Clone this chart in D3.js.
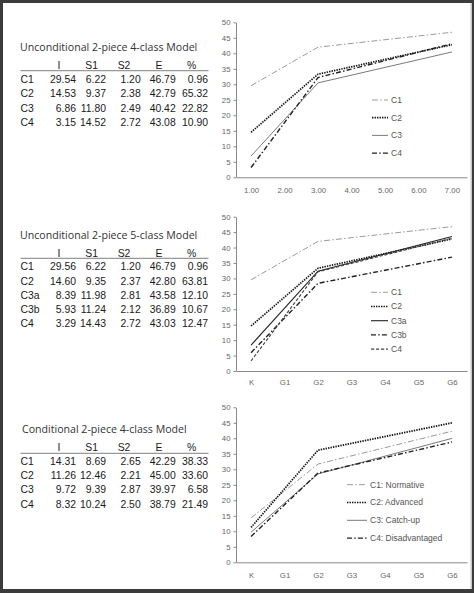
<!DOCTYPE html>
<html>
<head>
<meta charset="utf-8">
<script src="https://cdn.jsdelivr.net/npm/d3@7"></script>
<style>
  html, body { margin: 0; padding: 0; background: #fff; }
  svg { display: block; }
</style>
</head>
<body>
<svg id="chart"></svg>
<script>
// ---- data ----
const tableCols = ["I", "S1", "S2", "E", "%"];

const model1Title = "Unconditional 2-piece 4-class Model";
const model1Rows = ["C1", "C2", "C3", "C4"];
const model1Table = [
  [29.54, 6.22, 1.20, 46.79, 0.96],
  [14.53, 9.37, 2.38, 42.79, 65.32],
  [6.86, 11.80, 2.49, 40.42, 22.82],
  [3.15, 14.52, 2.72, 43.08, 10.90]
];

const model2Title = "Unconditional 2-piece 5-class Model";
const model2Rows = ["C1", "C2", "C3a", "C3b", "C4"];
const model2Table = [
  [29.56, 6.22, 1.20, 46.79, 0.96],
  [14.60, 9.35, 2.37, 42.80, 63.81],
  [8.39, 11.98, 2.81, 43.58, 12.10],
  [5.93, 11.24, 2.12, 36.89, 10.67],
  [3.29, 14.43, 2.72, 43.03, 12.47]
];

const model3Title = "Conditional 2-piece 4-class Model";
const model3Rows = ["C1", "C2", "C3", "C4"];
const model3Table = [
  [14.31, 8.69, 2.65, 42.29, 38.33],
  [11.26, 12.46, 2.21, 45.00, 33.60],
  [9.72, 9.39, 2.87, 39.97, 6.58],
  [8.32, 10.24, 2.50, 38.79, 21.49]
];

const timeLabels = ["1.00", "2.00", "3.00", "4.00", "5.00", "6.00", "7.00"];
const gradeLabels = ["K", "G1", "G2", "G3", "G4", "G5", "G6"];
const yTicks = [0, 5, 10, 15, 20, 25, 30, 35, 40, 45, 50];

// line values at each wave (null = no knot there; lines are straight between knots)
const model1Legend = ["C1", "C2", "C3", "C4"];
const model1Series = [
  [29.54, null, 41.98, null, null, null, 46.79],
  [14.53, null, 33.27, null, null, null, 42.79],
  [6.86, null, 30.46, null, null, null, 40.42],
  [3.15, null, 32.19, null, null, null, 43.08]
];

const model2Legend = ["C1", "C2", "C3a", "C3b", "C4"];
const model2Series = [
  [29.56, null, 42.00, null, null, null, 46.79],
  [14.60, null, 33.30, null, null, null, 42.80],
  [8.39, null, 32.35, null, null, null, 43.58],
  [5.93, null, 28.41, null, null, null, 36.89],
  [3.29, null, 32.15, null, null, null, 43.03]
];

const model3Legend = ["C1: Normative", "C2: Advanced", "C3: Catch-up", "C4: Disadvantaged"];
const model3Series = [
  [14.31, null, 31.69, null, null, null, 42.29],
  [11.26, null, 36.18, null, null, null, 45.00],
  [9.72, null, 28.50, null, null, null, 39.97],
  [8.32, null, 28.80, null, null, null, 38.79]
];

// ---- styles ----
const STYLE = {
  dashDotLight: { stroke: "#9a9a9a", width: 1, dash: "6,2.2,1.5,2.2" },
  dotted:       { stroke: "#111", width: 1.7, dash: "1.4,1.1" },
  solidGray:    { stroke: "#7a7a7a", width: 1, dash: null },
  solidDark:    { stroke: "#222", width: 1.1, dash: null },
  dashDotDark:  { stroke: "#222", width: 1.4, dash: "5,2.2,1.5,2.2" },
  dashed:       { stroke: "#444", width: 1.1, dash: "3.2,1.8" }
};

const panels = [
  {
    title: model1Title, rows: model1Rows, table: model1Table,
    xLabels: timeLabels, legend: model1Legend, series: model1Series,
    styles: [STYLE.dashDotLight, STYLE.dotted, STYLE.solidGray, STYLE.dashDotDark],
    titleX: 20, titleY: 47.5, headY: 65.7, ruleY: 70.7, rowY: 79.3, rowStep: 14.3,
    yTop: 22.3, yBottom: 177.3, xLabY: 190.7,
    legX: 372, legLen: 16, legY: 100, legStep: 17.7
  },
  {
    title: model2Title, rows: model2Rows, table: model2Table,
    xLabels: gradeLabels, legend: model2Legend, series: model2Series,
    styles: [STYLE.dashDotLight, STYLE.dotted, STYLE.solidDark, STYLE.dashDotDark, STYLE.dashed],
    titleX: 20, titleY: 235.7, headY: 253.3, ruleY: 258.3, rowY: 266.7, rowStep: 14.25,
    yTop: 216.7, yBottom: 371, xLabY: 382.7,
    legX: 371, legLen: 17, legY: 292.3, legStep: 14.2
  },
  {
    title: model3Title, rows: model3Rows, table: model3Table,
    xLabels: gradeLabels, legend: model3Legend, series: model3Series,
    styles: [STYLE.dashDotLight, STYLE.dotted, STYLE.solidGray, STYLE.dashDotDark],
    titleX: 22, titleY: 429.7, headY: 447.3, ruleY: 453.3, rowY: 461.3, rowStep: 14.25,
    yTop: 407.3, yBottom: 562.3, xLabY: 575.3,
    legX: 347, legLen: 20, legY: 484.7, legStep: 17.8
  }
];

const W = 474, H = 593;
const svg = d3.select("#chart").attr("width", W).attr("height", H);

// page frame
svg.append("rect").attr("width", W).attr("height", H).attr("fill", "#3b3b3b");
svg.append("rect").attr("x", 3).attr("y", 3).attr("width", 469).attr("height", 586).attr("fill", "#c8c8c8");
svg.append("rect").attr("x", 3).attr("y", 3).attr("width", 467.5).attr("height", 586).attr("fill", "#fff");

const colRight = [76, 106, 140.7, 175.7, 208];
const colCenter = [59, 91.7, 124, 159, 191.7];
const fmt = d3.format(".2f");
const TABLE_FONT = "'Liberation Sans', Arial, sans-serif";

const AXIS_X0 = 236, AXIS_X1 = 467;

panels.forEach(p => {
  const g = svg.append("g");

  // ---- table ----
  g.append("text")
    .attr("x", p.titleX).attr("y", p.titleY)
    .attr("dy", "0.35em")
    .attr("font-family", "'Open Sans', sans-serif")
    .attr("font-size", "10.6px")
    .attr("fill", "#333")
    .text(p.title);

  g.selectAll("text.head")
    .data(tableCols)
    .join("text")
    .attr("class", "head")
    .attr("x", (d, i) => colCenter[i])
    .attr("y", p.headY)
    .attr("dy", "0.35em")
    .attr("text-anchor", "middle")
    .attr("font-family", TABLE_FONT)
    .attr("font-size", "10.4px")
    .attr("fill", "#1a1a1a")
    .text(d => d);

  g.append("line")
    .attr("x1", 20.5).attr("x2", 208.5)
    .attr("y1", p.ruleY).attr("y2", p.ruleY)
    .attr("stroke", "#999").attr("stroke-width", 1.2);

  const rowG = g.selectAll("g.row")
    .data(p.table)
    .join("g")
    .attr("class", "row")
    .attr("transform", (d, i) => `translate(0, ${p.rowY + i * p.rowStep})`);

  rowG.append("text")
    .attr("x", 20.5)
    .attr("dy", "0.35em")
    .attr("font-family", TABLE_FONT)
    .attr("font-size", "10.4px")
    .attr("fill", "#1a1a1a")
    .text((d, i) => p.rows[i]);

  rowG.selectAll("text.val")
    .data(d => d)
    .join("text")
    .attr("class", "val")
    .attr("x", (d, i) => colRight[i])
    .attr("dy", "0.35em")
    .attr("text-anchor", "end")
    .attr("font-family", TABLE_FONT)
    .attr("font-size", "10.4px")
    .attr("fill", "#1a1a1a")
    .text(d => fmt(d));

  // ---- chart ----
  const x = d3.scalePoint().domain(p.xLabels).range([AXIS_X0, AXIS_X1]).padding(0.45);
  const y = d3.scaleLinear().domain([0, 50]).range([p.yBottom, p.yTop]);

  const yAxis = g.append("g")
    .attr("transform", `translate(${AXIS_X0}, 0)`)
    .call(d3.axisLeft(y).tickValues(yTicks).tickSize(2.5).tickPadding(3).tickSizeOuter(0));
  yAxis.select(".domain").attr("stroke", "#8a8a8a");
  yAxis.selectAll(".tick line").attr("stroke", "#8a8a8a");
  yAxis.selectAll(".tick text")
    .attr("font-family", TABLE_FONT)
    .attr("font-size", "7.8px")
    .attr("fill", "#666");

  const xAxis = g.append("g")
    .attr("transform", `translate(0, ${p.yBottom})`)
    .call(d3.axisBottom(x).tickSize(0).tickSizeOuter(0).tickPadding(0));
  xAxis.select(".domain").attr("stroke", "#8a8a8a");
  xAxis.selectAll(".tick text")
    .attr("y", p.xLabY - p.yBottom)
    .attr("dy", "0.35em")
    .attr("font-family", TABLE_FONT)
    .attr("font-size", "7.8px")
    .attr("fill", "#666");

  const line = d3.line()
    .x(d => x(d.label))
    .y(d => y(d.value));

  p.series.forEach((vals, si) => {
    const pts = vals
      .map((v, i) => ({ label: p.xLabels[i], value: v }))
      .filter(d => d.value !== null);
    const st = p.styles[si];
    g.append("path")
      .datum(pts)
      .attr("d", line)
      .attr("fill", "none")
      .attr("stroke", st.stroke)
      .attr("stroke-width", st.width)
      .attr("stroke-dasharray", st.dash);
  });

  // ---- legend ----
  const leg = g.selectAll("g.leg")
    .data(p.legend)
    .join("g")
    .attr("class", "leg")
    .attr("transform", (d, i) => `translate(${p.legX}, ${p.legY + i * p.legStep})`);

  leg.append("line")
    .attr("x1", 0).attr("x2", p.legLen)
    .attr("stroke", (d, i) => p.styles[i].stroke)
    .attr("stroke-width", (d, i) => p.styles[i].width)
    .attr("stroke-dasharray", (d, i) => p.styles[i].dash);

  leg.append("text")
    .attr("x", p.legLen + 3)
    .attr("dy", "0.35em")
    .attr("font-family", TABLE_FONT)
    .attr("font-size", "8.5px")
    .attr("fill", "#555")
    .text(d => d);
});
</script>
</body>
</html>
